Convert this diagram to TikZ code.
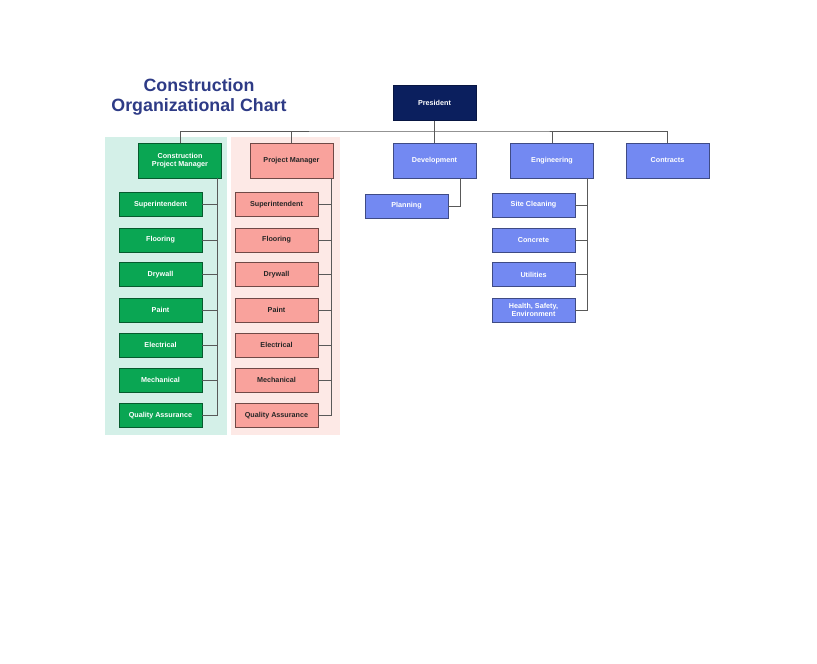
\documentclass[tikz,border=0pt]{standalone}
\usepackage{fontspec}
\setmainfont{Liberation Sans}
\usepackage{xcolor}
\usepackage{tikz}
\usetikzlibrary{positioning}
\tikzset{
  orgline/.style={draw=gray!70!black, line width=0.9pt},
  orgbox/.style={draw, align=center, minimum width=83pt, minimum height=24pt,
    inner sep=1pt, font=\fontsize{7.2}{8.2}\selectfont\bfseries}
}
\definecolor{OrgNavy}{HTML}{0B1F5E}
\definecolor{OrgGreen}{HTML}{0AA653}
\definecolor{OrgSalmon}{HTML}{F9A29C}
\definecolor{OrgBlue}{HTML}{7389F2}
\definecolor{OrgMint}{HTML}{D4F0E8}
\definecolor{OrgBlush}{HTML}{FDE9E6}
\definecolor{OrgTitle}{HTML}{2E3B86}

\begin{document}
\begin{tikzpicture}[
  x=1pt, y=-1pt,
  pres/.style={orgbox, fill=OrgNavy, draw=OrgNavy!70!black, text=white, minimum height=35pt},
  green/.style={orgbox, fill=OrgGreen, draw=OrgGreen!55!black, text=white},
  salmon/.style={orgbox, fill=OrgSalmon, draw=OrgSalmon!45!black, text=black!85},
  blue/.style={orgbox, fill=OrgBlue, draw=OrgBlue!55!black, text=white},
  head/.style={minimum height=35pt}
]
\useasboundingbox (0,0) rectangle (817,664);

% column backgrounds
\fill[OrgMint] (105,137) rectangle (227,435);
\fill[OrgBlush] (231,137) rectangle (340,435);

\node[align=center, text=OrgTitle, font=\fontsize{17.8}{20.5}\selectfont\bfseries] (title) at (199,97)
  {Construction\\Organizational Chart};

\node[pres] at (434.5,103) (pres) {President};

\node[green, head] at (180,160.5) (cpm) {Construction\\Project Manager};
\node[salmon, head] at (291.5,160.5) (pm) {Project Manager};
\node[blue, head] at (434.5,160.5) (dev) {Development};
\node[blue, head] at (552,160.5) (eng) {Engineering};
\node[blue, head] at (667.5,160.5) (con) {Contracts};

\node[green] at (160.5,204.5) (gsup) {Superintendent};
\node[green] at (160.5,240) (gfloor) {Flooring};
\node[green] at (160.5,274.5) (gdry) {Drywall};
\node[green] at (160.5,310) (gpaint) {Paint};
\node[green] at (160.5,345) (gelec) {Electrical};
\node[green] at (160.5,380) (gmech) {Mechanical};
\node[green] at (160.5,415.5) (gqa) {Quality Assurance};

\node[salmon] at (276.5,204.5) (psup) {Superintendent};
\node[salmon] at (276.5,240) (pfloor) {Flooring};
\node[salmon] at (276.5,274.5) (pdry) {Drywall};
\node[salmon] at (276.5,310) (ppaint) {Paint};
\node[salmon] at (276.5,345) (pelec) {Electrical};
\node[salmon] at (276.5,380) (pmech) {Mechanical};
\node[salmon] at (276.5,415.5) (pqa) {Quality Assurance};

\node[blue] at (406.5,206) (plan) {Planning};

\node[blue] at (533.5,205) (site) {Site Cleaning};
\node[blue] at (533.5,240) (conc) {Concrete};
\node[blue] at (533.5,274.5) (util) {Utilities};
\node[blue] at (533.5,310) (hse) {Health, Safety,\\Environment};

% bus from the president to the five heads
\coordinate (bus) at (434.5,131);
\draw[orgline] (pres.south) -- (bus);
\draw[orgline] (cpm.north) |- (bus) -| (con.north);
\draw[orgline] (pm.north) -- (pm.north |- bus);
\draw[orgline] (dev.north) -- (bus);
\draw[orgline] (eng.north) -- (eng.north |- bus);

% spines down the right side of each head
\coordinate (gspine) at (217,178);
\coordinate (pspine) at (331,178);
\coordinate (dspine) at (460,178);
\coordinate (espine) at (587,178);
\draw[orgline] (gspine) |- (gqa.east);
\draw[orgline] (pspine) |- (pqa.east);
\draw[orgline] (dspine) |- (plan.east);
\draw[orgline] (espine) |- (hse.east);
\draw[orgline] (gsup.east) -- (gsup.east -| gspine);
\draw[orgline] (gfloor.east) -- (gfloor.east -| gspine);
\draw[orgline] (gdry.east) -- (gdry.east -| gspine);
\draw[orgline] (gpaint.east) -- (gpaint.east -| gspine);
\draw[orgline] (gelec.east) -- (gelec.east -| gspine);
\draw[orgline] (gmech.east) -- (gmech.east -| gspine);
\draw[orgline] (psup.east) -- (psup.east -| pspine);
\draw[orgline] (pfloor.east) -- (pfloor.east -| pspine);
\draw[orgline] (pdry.east) -- (pdry.east -| pspine);
\draw[orgline] (ppaint.east) -- (ppaint.east -| pspine);
\draw[orgline] (pelec.east) -- (pelec.east -| pspine);
\draw[orgline] (pmech.east) -- (pmech.east -| pspine);
\draw[orgline] (site.east) -- (site.east -| espine);
\draw[orgline] (conc.east) -- (conc.east -| espine);
\draw[orgline] (util.east) -- (util.east -| espine);
\end{tikzpicture}
\end{document}
